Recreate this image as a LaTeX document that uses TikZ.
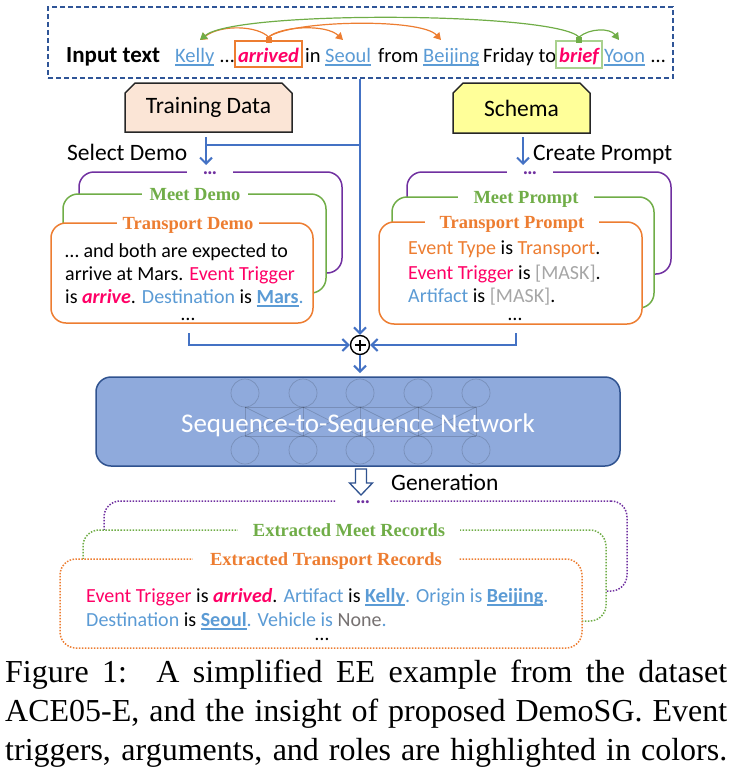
\documentclass[tikz,border=0pt]{standalone}
\usepackage{fontspec}
\setmainfont{Carlito}
\newfontfamily\tnr{Liberation Serif}
\usetikzlibrary{arrows.meta,shapes.misc}
\definecolor{trig}{RGB}{255,0,102}
\definecolor{argblue}{RGB}{91,155,213}
\definecolor{corange}{RGB}{237,125,49}
\definecolor{cgreen}{RGB}{112,173,71}
\definecolor{lgreen}{RGB}{169,209,142}
\definecolor{cpurple}{RGB}{112,48,160}
\definecolor{maskgray}{RGB}{166,166,166}
\definecolor{nonegray}{RGB}{118,113,113}
\definecolor{dashblue}{RGB}{47,85,151}
\definecolor{flowblue}{RGB}{68,114,196}
\definecolor{netfill}{RGB}{143,170,220}
\definecolor{netborder}{RGB}{47,82,143}
\definecolor{peach}{RGB}{251,229,214}
\definecolor{lyellow}{RGB}{255,255,153}
\newcommand\finput{\fontsize{20.5}{24}\selectfont}
\newcommand\fbody{\fontsize{20}{24}\selectfont}
\newcommand\flab{\fontsize{23.5}{27}\selectfont}
\newcommand\fnet{\fontsize{27}{32}\selectfont}
\newcommand\ftitle{\tnr\bfseries\fontsize{18.5}{22}\selectfont}
\newcommand\fcap{\tnr\fontsize{32}{39}\selectfont}
\newcommand\ulb[1]{\setbox0\hbox{\bfseries\color{argblue}#1}\rlap{\color{argblue}\rule[-4pt]{\wd0}{1.8pt}}\box0}
\newcommand\ulw[1]{\setbox0\hbox{\color{argblue}#1}\rlap{\color{argblue}\rule[-4pt]{\wd0}{1.8pt}}\box0}
\begin{document}
\begin{tikzpicture}[x=1pt,y=-1pt,
  every node/.style={inner sep=0pt},
  word/.style={anchor=base west, font=\finput},
  bodytxt/.style={anchor=base west, font=\fbody},
  ell/.style={anchor=base, font=\fbody, text height=3pt, text depth=0pt},
  flow/.style={draw=flowblue, line width=2pt, -{Straight Barb[length=6pt,width=12pt]}},
  flowline/.style={draw=flowblue, line width=2pt},
  rbox/.style={draw, rounded corners=15pt, fill=white, line width=1.5pt},
  dbox/.style={rbox, dash pattern=on 1.5pt off 1.5pt, rounded corners=16pt},
  ttl/.style={fill=white, anchor=base, font=\ftitle, inner xsep=8pt},
  dotsn/.style={fill=white, anchor=base, font=\fbody\bfseries, inner xsep=16pt, inner ysep=2pt, text=cpurple, text height=3pt, text depth=0pt},
  rel/.style={line width=1.2pt, -{Triangle[length=7pt,width=8pt]}},
  netline/.style={draw=black, draw opacity=0.16, line width=0.7pt},
  tagbox/.style={chamfered rectangle, chamfered rectangle corners={north west,north east}, chamfered rectangle xsep=7pt, draw=black!85, line width=1.5pt, font=\flab},
]
\useasboundingbox (0,0) rectangle (732,771);

% ---------- input text ----------
\node[draw=dashblue, dash pattern=on 5pt off 3pt, line width=1.5pt, minimum width=625pt, minimum height=71pt] (inbox) at (360.5,42.5) {};
\node[word, font=\fontsize{23}{27}\selectfont\bfseries] (w0) at (66,62) {Input text};
\node[word] (kelly) at (175,62) {\ulw{Kelly}};
\node[word] (e1) at (220,62) {…};
\node[draw=corange, line width=1.5pt, minimum width=67pt, minimum height=26pt] (arrbox) at (268.5,54) {};
\node[anchor=base, font=\finput\bfseries\itshape, text=trig] (arrived) at (268.5,62) {arrived};
\node[word] (win) at (305,62) {in};
\node[word] (seoul) at (325,62) {\ulw{Seoul}};
\node[word] (from) at (378,62) {from};
\node[word] (beijing) at (423,62) {\ulw{Beijing}};
\node[word] (fri) at (483,62) {Friday to};
\node[draw=lgreen, line width=1.5pt, minimum width=46pt, minimum height=27pt] (brbox) at (579,54.5) {};
\node[anchor=base, font=\finput\bfseries\itshape, text=trig] (brief) at (579,62) {brief};
\node[word] (yoon) at (604,62) {\ulw{Yoon}};
\node[word] (e2) at (651,62) {…};
\node[fill=corange, minimum size=6pt] (osq) at (arrbox.north) {};
\node[fill=cgreen, minimum size=6pt] (gsq) at (brbox.north) {};
\coordinate (tk) at (200,40);
\coordinate (ts) at (343,40);
\coordinate (tb) at (441,40);
\coordinate (ty) at (619,40);
\draw[rel, color=corange] (osq.north) .. controls (258,26) and (222,24) .. (tk);
\draw[rel, color=corange] (osq.north) .. controls (282,26) and (326,24) .. (ts);
\draw[rel, color=corange] (osq.north) .. controls (292,20) and (421,18) .. (tb);
\draw[rel, color=cgreen] (gsq.north) .. controls (555,12) and (235,10) .. (tk);
\draw[rel, color=cgreen] (gsq.north) .. controls (590,28) and (610,28) .. (ty);

% ---------- sources ----------
\node[tagbox, fill=peach, minimum width=167pt, minimum height=49pt] (td) at (208.5,107.5) {Training Data};
\node[tagbox, fill=lyellow, minimum width=137pt, minimum height=50pt] (sch) at (521.5,108) {Schema};

% ---------- flow arrows ----------
\node[circle, draw, line width=1.4pt, minimum size=19pt,
  path picture={\draw[line width=1.4pt] ([xshift=-5.5pt]path picture bounding box.center) -- ([xshift=5.5pt]path picture bounding box.center);
  \draw[line width=1.4pt] ([yshift=-5.5pt]path picture bounding box.center) -- ([yshift=5.5pt]path picture bounding box.center);}] (oplus) at (360,345) {};
\coordinate (jn) at (360,145);
\coordinate (sdtop) at (206,137);
\coordinate (sdtip) at (206,165);
\coordinate (cptop) at (523,137);
\coordinate (cptip) at (523,165);
\draw[flow] (inbox.south -| oplus) -- (oplus);
\draw[flowline] (jn) -- (jn -| sdtop);
\draw[flow] (sdtop) -- (sdtip);
\draw[flow] (cptop) -- (cptip);
\node[anchor=base west, font=\flab] (seldemo) at (67,160) {Select Demo};
\node[anchor=base west, font=\flab] (crprompt) at (533,160) {Create Prompt};

% ---------- demo boxes ----------
\node[rbox, draw=cpurple, minimum width=263pt, minimum height=101pt] (dp) at (210.5,222.5) {};
\node[dotsn] (dpt) at (210,174) {…};
\node[rbox, draw=cgreen, minimum width=263pt, minimum height=99pt] (dg) at (194.5,243.5) {};
\node[ttl, text=cgreen] (dgt) at (195,200) {Meet Demo};
\node[rbox, draw=corange, minimum width=262pt, minimum height=100pt] (do) at (182,273) {};
\node[ttl, text=corange, inner xsep=6pt] (dot) at (188,229) {Transport Demo};
\node[bodytxt] (dl1) at (65,257) {… and both are expected to};
\node[bodytxt] (dl2) at (65,280) {arrive at Mars. \textcolor{trig}{Event Trigger}};
\node[bodytxt] (dl3) at (65,303) {is \textcolor{trig}{\bfseries\itshape arrive}. \textcolor{argblue}{Destination} is \ulb{Mars}.};
\node[ell] (dl4) at (188,320) {…};

% ---------- prompt boxes ----------
\node[rbox, draw=cpurple, minimum width=264pt, minimum height=102pt] (pp) at (539,223) {};
\node[dotsn] (ppt) at (530,174) {…};
\node[rbox, draw=cgreen, minimum width=262pt, minimum height=111pt] (pg) at (523,252.5) {};
\node[ttl, text=cgreen, inner xsep=16pt] (pgt) at (526,203) {Meet Prompt};
\node[rbox, draw=corange, minimum width=263pt, minimum height=102pt] (po) at (510.5,273) {};
\node[ttl, text=corange, inner xsep=15pt] (pot) at (512,228) {Transport Prompt};
\node[bodytxt] (pl1) at (408,254) {\textcolor{corange}{Event Type} is \textcolor{corange}{Transport}.};
\node[bodytxt] (pl2) at (408,279) {\textcolor{trig}{Event Trigger} is \textcolor{maskgray}{[MASK]}.};
\node[bodytxt] (pl3) at (408,302) {\textcolor{argblue}{Artifact} is \textcolor{maskgray}{[MASK]}.};
\node[ell] (pl4) at (515,320) {…};

% ---------- merge ----------
\coordinate (lfeed) at (189,333);
\coordinate (rfeed) at (516,333);
\coordinate (nettop) at (360,373);
\draw[flow] (lfeed) |- (oplus);
\draw[flow] (rfeed) |- (oplus);
\draw[flow] (oplus) -- (nettop);

% ---------- network ----------
\node[draw=netborder, fill=netfill, line width=1.5pt, rounded corners=15pt, minimum width=524pt, minimum height=89pt] (net) at (358,421.5) {};
\foreach \i/\x in {1/245,2/303,3/360,4/418,5/476} {
  \node[circle, netline, minimum size=28pt] (nt\i) at (\x,393) {};
  \node[circle, netline, minimum size=28pt] (nb\i) at (\x,450) {};
  \coordinate (pt\i) at (\x,407);
  \coordinate (pb\i) at (\x,436);
  \draw[netline] (pt\i) -- (pb\i);
}
\foreach \i/\j in {1/2,2/3,3/4,4/5} {
  \draw[netline] (pt\i) -- (pb\j);
  \draw[netline] (pb\i) -- (pt\j);
  \draw[netline] (pt\i) -- (pt\j);
  \draw[netline] (pb\i) -- (pb\j);
}
\node[anchor=base, text=white, font=\fnet] (nettxt) at (358,432) {Sequence-to-Sequence Network};

% ---------- generation ----------
\draw[draw=netborder, fill=white, line width=1.3pt, line join=miter]
  (355.5,469) -- (366.5,469) -- (366.5,483) -- (372.5,483) -- (361,495) -- (349.5,483) -- (355.5,483) -- cycle;
\node[anchor=base west, font=\flab] (gen) at (391,490) {Generation};

% ---------- record boxes ----------
\node[dbox, draw=cpurple, minimum width=523pt, minimum height=90pt] (rp) at (365.5,546) {};
\node[dotsn, inner xsep=20pt] (rpt) at (363,503.5) {…};
\node[dbox, draw=cgreen, minimum width=523pt, minimum height=91pt] (rg) at (344.5,575.5) {};
\node[ttl, text=cgreen, inner xsep=15pt] (rgt) at (349,536) {Extracted Meet Records};
\node[dbox, draw=corange, minimum width=522pt, minimum height=89pt] (ro) at (321,603.5) {};
\node[ttl, text=corange, inner xsep=17pt] (rot) at (326,565) {Extracted Transport Records};
\node[bodytxt] (rl1) at (86,602) {\textcolor{trig}{Event Trigger} is \textcolor{trig}{\bfseries\itshape arrived}. \textcolor{argblue}{Artifact} is \ulb{Kelly}. \textcolor{argblue}{Origin} is \ulb{Beijing}.};
\node[bodytxt] (rl2) at (86,626) {\textcolor{argblue}{Destination} is \ulb{Seoul}. \textcolor{argblue}{Vehicle} is \textcolor{nonegray}{None}.};
\node[ell] (rl3) at (322,640) {…};

% ---------- caption ----------
\node[anchor=base west, font=\fcap] (cap1) at (5,682) {\makebox[722pt][s]{Figure 1:\hspace{0.25em} A simplified EE example from the dataset}};
\node[anchor=base west, font=\fcap] (cap2) at (5,721) {\makebox[722pt][s]{ACE05-E, and the insight of proposed DemoSG. Event}};
\node[anchor=base west, font=\fcap] (cap3) at (5,760) {\makebox[722pt][s]{triggers, arguments, and roles are highlighted in colors.}};
\end{tikzpicture}
\end{document}
